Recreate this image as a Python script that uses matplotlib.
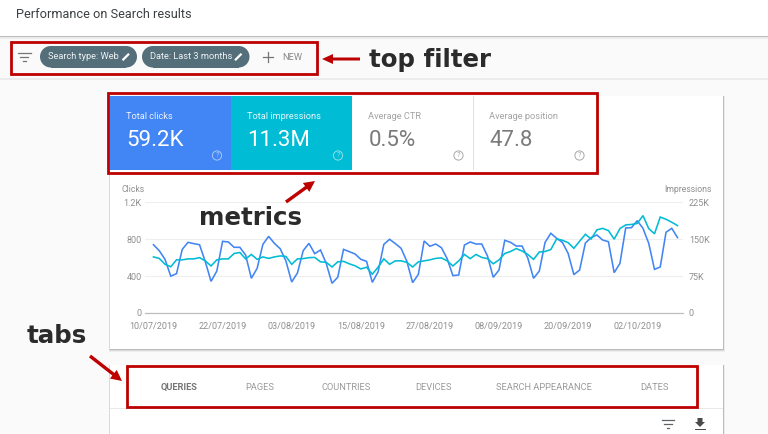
import matplotlib
matplotlib.use("Agg")
import matplotlib.pyplot as plt
import matplotlib.dates as mdates
from matplotlib.patches import Rectangle, FancyBboxPatch, FancyArrow, Circle, Polygon
from matplotlib.lines import Line2D
import pandas as pd

W, H = 768, 434
UI = "Roboto"
HEAD = "DejaVu Sans"
RED = "#bd0000"
DARK = "#2b2b2b"

clicks = [740,676,582,400,426,690,766,752,740,556,343,455,777,770,712,712,628,376,484,744,
          831,755,697,564,336,434,676,755,643,683,538,322,387,690,665,640,582,560,332,445,
          744,799,752,701,560,329,419,781,723,748,708,589,405,412,737,770,748,748,618,387,
          466,788,766,726,726,596,376,455,766,864,810,766,647,416,466,759,817,846,791,773,
          437,538,922,925,1001,918,755,473,499,875,918,817]
impressions_k = [114,111,99,94,108,108,110,110,112.5,106,95.6,108,110,110,121,123,110,119,109,114,
                 111,114,116,115,99,110,110.5,112.5,113,104,103,93.5,104,105,100,96,89.5,93,79,93,
                 110,99,106,106,103,93.5,104,106,108,111,112,106,95.6,106,119,110.5,119,113,110.5,100,
                 108,121,125,131,126,119,109,124,125,129,150.5,148,143,131.5,146,160,150.5,169,172,167.5,
                 150,171.5,179,180,182,198,171.5,161,195,190.5,184.5,177.6]
dates = pd.date_range("2019-07-10", periods=len(clicks), freq="D")
date_ticks = pd.date_range("2019-07-10", periods=8, freq="12D")
click_ticks = [0, 400, 800, 1200]
click_tick_labels = ["0", "400", "800", "1.2K"]
imp_ticks = [0, 75000, 150000, 225000]
imp_tick_labels = ["0", "75K", "150K", "225K"]
tab_names = ["QUERIES", "PAGES", "COUNTRIES", "DEVICES", "SEARCH APPEARANCE", "DATES"]
tab_x = [179.5, 260, 346, 433, 543.5, 654]

fig = plt.figure(figsize=(W / 100, H / 100), dpi=100, facecolor="#fafafa")


def px_axes(z):
    a = fig.add_axes([0, 0, 1, 1], zorder=z)
    a.set_xlim(0, W)
    a.set_ylim(H, 0)
    a.axis("off")
    a.patch.set_alpha(0)
    return a


def px(v):
    return v * 0.72


ui = px_axes(0)
top = px_axes(5)


def rect(a, x0, y0, x1, y1, **kw):
    kw.setdefault("lw", 0)
    a.add_patch(Rectangle((x0, y0), x1 - x0, y1 - y0, **kw))


def text(a, x, y, s, size, color, ha="left", family=UI, weight="normal"):
    a.text(x, y, s, fontsize=px(size), color=color, ha=ha, va="center", family=family, weight=weight)


def card(x0, y0, x1, y1):
    for d, al in ((3, .05), (2, .08), (1, .14)):
        rect(ui, x0 - d * .5, y0, x1 + d * .5, y1 + d, fc="#000000", alpha=al)
    rect(ui, x0, y0, x1, y1, fc="white")


def filter_icon(a, cx, cy, color, scale=1.0):
    for dy, hw in ((-4, 6.5), (0, 4), (4, 1.5)):
        a.add_line(Line2D([cx - hw * scale, cx + hw * scale], [cy + dy * scale] * 2, color=color, lw=0.9))


def help_icon(a, cx, cy, color):
    a.add_patch(Circle((cx, cy), 4.6, fc="none", ec=color, lw=0.7))
    a.text(cx, cy + .2, "?", fontsize=px(7.5), color=color, ha="center", va="center", family=UI)


def pencil(a, cx, cy):
    a.add_line(Line2D([cx - 3.5, cx + 3], [cy + 3.5, cy - 3], color="white", lw=1.6, solid_capstyle="butt"))


def chip(x0, x1, y0, y1, label):
    h = y1 - y0
    ui.add_patch(FancyBboxPatch((x0 + h / 2, y0 + h / 2), x1 - x0 - h, 0,
                                boxstyle=f"round,pad=0,rounding_size={h/2}", fc="#546e7a", ec="none", lw=0,
                                mutation_aspect=1))
    ui.add_patch(Circle((x0 + h / 2, y0 + h / 2), h / 2, fc="#546e7a", lw=0))
    ui.add_patch(Circle((x1 - h / 2, y0 + h / 2), h / 2, fc="#546e7a", lw=0))
    rect(ui, x0 + h / 2, y0, x1 - h / 2, y1, fc="#546e7a")
    text(ui, x0 + 8, (y0 + y1) / 2, label, 9.3, "#eef2f3")
    pencil(ui, x1 - 11, (y0 + y1) / 2)


def arrow(a, x0, y0, x1, y1, width=3, head_w=10, head_l=10):
    a.add_patch(FancyArrow(x0, y0, x1 - x0, y1 - y0, width=width, head_width=head_w, head_length=head_l,
                           length_includes_head=True, fc=RED, ec="none", lw=0))


# header and filter bar
rect(ui, 0, 0, W, 35.5, fc="white")
rect(ui, 0, 35.5, W, 37, fc="#bdbdbd")
rect(ui, 0, 37, W, 39, fc="#ececec")
rect(ui, 0, 78, W, 79.5, fc="#ececec")
text(ui, 16, 14.5, "Performance on Search results", 12.8, "#3c4043")
filter_icon(ui, 24, 57, "#757575")
chip(40, 137, 46, 67.5, "Search type: Web")
chip(142, 249.5, 46, 67.5, "Date: Last 3 months")
ui.add_line(Line2D([263, 273], [57, 57], color="#757575", lw=0.9))
ui.add_line(Line2D([268, 268], [52, 62], color="#757575", lw=0.9))
text(ui, 282, 57.5, "NEW", 9.3, "#8a8a8a")

# main card and metric tiles
card(110, 96, 723, 349)
rect(ui, 110, 96, 231, 170, fc="#4285f4")
rect(ui, 231, 96, 352, 170, fc="#00bcd4")
rect(ui, 473, 96, 473.7, 170, fc="#e0e0e0")
tiles = [(126, "Total clicks", "59.2K", "#eaf1fe", "white", "#a9c8fa", 217),
         (247, "Total impressions", "11.3M", "#e3f7fa", "white", "#8fe0ea", 338),
         (368, "Average CTR", "0.5%", "#a3a3a3", "#7a7a7a", "#a8a8a8", 458.5),
         (489, "Average position", "47.8", "#a3a3a3", "#7a7a7a", "#a8a8a8", 579.5)]
for x, label, value, c1, c2, c3, ix in tiles:
    text(ui, x, 116.5, label, 9.3, c1)
    text(ui, x + .5, 140.5, value, 22.3, c2)
    help_icon(ui, ix, 155.5, c3)

# tabs card
card(110, 365, 723, 440)
rect(ui, 110, 408, 723, 408.7, fc="#e8e8e8")
for i, (name, x) in enumerate(zip(tab_names, tab_x)):
    text(ui, x, 387, name, 9.3, "#757575" if i == 0 else "#9a9a9a", ha="center", weight="bold" if i == 0 else "normal")
filter_icon(ui, 668, 424, "#5f6368", .95)
ui.add_patch(Polygon([(697.5, 418), (702.5, 418), (702.5, 422), (705, 422), (700, 427), (695, 422), (697.5, 422)],
                     fc="#4a4a4a", lw=0))
rect(ui, 694.5, 428.5, 705.5, 430, fc="#4a4a4a")

# line chart
ax = fig.add_axes([145 / W, 1 - 313 / H, (683 - 145) / W, (313 - 202.3) / H], zorder=2)
ax.patch.set_alpha(0)
ax2 = ax.twinx()
ax2.set_zorder(3)
ax2.patch.set_alpha(0)
d0 = mdates.date2num(dates[0])
ax.set_xlim(d0 - 1.47, d0 + 91.95)
ax.set_ylim(0, 1200)
ax2.set_ylim(0, 225000)
ax.plot(dates, clicks, color="#4285f4", lw=1.15, solid_joinstyle="miter", zorder=3)
ax2.plot(dates, [v * 1000 for v in impressions_k], color="#00bcd4", lw=1.15, solid_joinstyle="miter")
ax.set_yticks(click_ticks, click_tick_labels)
ax2.set_yticks(imp_ticks, imp_tick_labels)
ax.set_xticks(date_ticks, [d.strftime("%d/%m/%Y") for d in date_ticks])
ax.grid(axis="y", color="#eeeeee", lw=0.8)
ax.set_axisbelow(True)
for a in (ax, ax2):
    for name, s in a.spines.items():
        s.set_visible(name == "bottom")
    a.spines["bottom"].set_color("#bdbdbd")
    a.spines["bottom"].set_linewidth(0.8)
ax.tick_params(axis="y", length=0, pad=2.4, labelsize=px(9), labelcolor="#8f8f8f")
ax2.tick_params(axis="y", length=0, pad=4.3, labelsize=px(9), labelcolor="#8f8f8f")
ax.tick_params(axis="x", length=0, pad=6.5, labelsize=px(9), labelcolor="#8f8f8f")
for t in ax.get_xticklabels() + ax.get_yticklabels() + ax2.get_yticklabels():
    t.set_family(UI)
text(top, 121, 190, "Clicks", 8.6, "#8f8f8f")
text(top, 712, 190, "Impressions", 8.6, "#8f8f8f", ha="right")

# annotation boxes, arrows and labels
for x0, y0, x1, y1 in [(10.5, 41.5, 316.5, 74), (108, 92.5, 596.5, 172.5), (126.5, 366, 696.5, 407)]:
    rect(top, x0, y0, x1, y1, fc="none", ec=RED, lw=2)
arrow(top, 360, 59, 322, 59, width=3, head_w=10, head_l=11)
arrow(top, 286, 202, 315, 181, width=3.4, head_w=11, head_l=11)
arrow(top, 90, 356, 122, 381, width=3.4, head_w=11, head_l=11)
text(top, 369, 59.5, "top filter", 24.5, DARK, family=HEAD, weight="bold")
text(top, 199, 218, "metrics", 24.5, DARK, family=HEAD, weight="bold")
text(top, 27, 336, "tabs", 24.5, DARK, family=HEAD, weight="bold")

fig.savefig("out.png", dpi=100, facecolor=fig.get_facecolor())
